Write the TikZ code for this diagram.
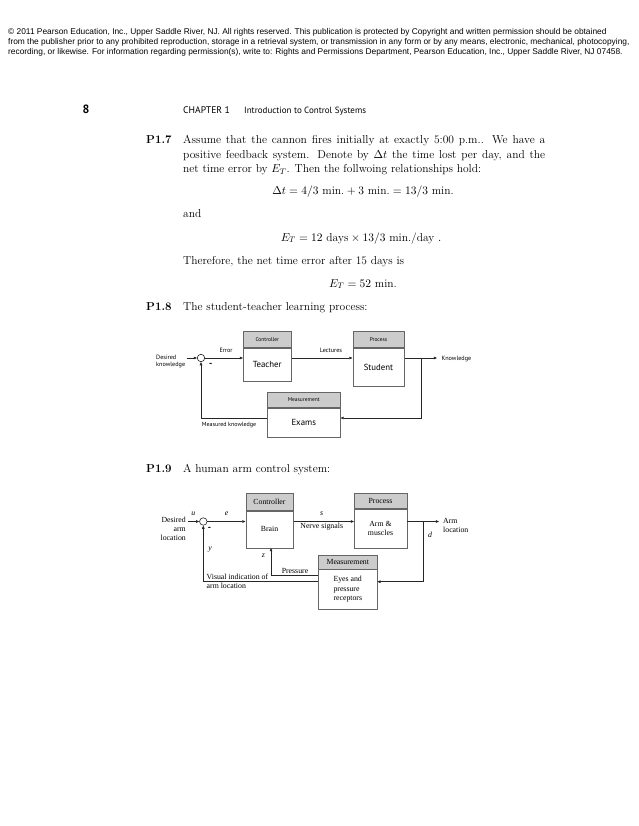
\RequirePackage{fix-cm}
\documentclass[tikz,border=0pt]{standalone}
\usepackage{fontspec}
\newfontfamily\arialf{Liberation Sans}
\newfontfamily\timesf{Liberation Serif}
\newfontfamily\dA{PT Sans}
\usetikzlibrary{arrows.meta}
\tikzset{
  wire/.style={draw=black!85, line width=0.6pt},
  arr/.style={wire, -{Triangle[length=3.2pt,width=2.6pt]}},
  hdr/.style={draw=black!60, fill=black!20, line width=0.5pt, inner sep=0, anchor=north west},
  bdy/.style={draw=black!60, line width=0.5pt, inner sep=0, anchor=north west, align=center},
  sumj/.style={circle, draw=black!85, line width=0.6pt, minimum size=7.5pt, inner sep=0},
  lab/.style={inner sep=0},
  cpy/.style={inner sep=0, anchor=base west, font=\arialf\fontsize{8.36}{9}\selectfont},
  body/.style={inner sep=0, anchor=base west, font=\fontsize{11.5}{14}\selectfont},
  num/.style={inner sep=0, anchor=base west, font=\fontsize{11.5}{14}\selectfont\bfseries},
  fA/.style={font=\dA\fontsize{#1}{#1}\selectfont},
  fB/.style 2 args={font=\timesf\fontsize{#1}{#2}\selectfont},
}
\begin{document}
\begin{tikzpicture}[x=1pt,y=-1pt]
\useasboundingbox (0,0) rectangle (638,826);
\fill[white] (0,0) rectangle (638,826);

% copyright notice
\node[cpy] (c1) at (8,35) {© 2011 Pearson Education, Inc., Upper Saddle River, NJ. All rights reserved. This publication is protected by Copyright and written permission should be obtained};
\node[cpy] (c2) at (8,45) {from the publisher prior to any prohibited reproduction, storage in a retrieval system, or transmission in any form or by any means, electronic, mechanical, photocopying,};
\node[cpy] (c3) at (8,55) {recording, or likewise. For information regarding permission(s), write to: Rights and Permissions Department, Pearson Education, Inc., Upper Saddle River, NJ 07458.};

% running head
\node[inner sep=0, anchor=base west, font=\dA\bfseries\fontsize{12}{12}\selectfont] (pg) at (82.5,114) {8};
\node[inner sep=0, anchor=base west, font=\dA\fontsize{9.6}{10}\selectfont] (ch) at (183,114) {CHAPTER 1};
\node[inner sep=0, anchor=base west, font=\dA\fontsize{9}{10}\selectfont] (cht) at (244,114) {Introduction to Control Systems};

% P1.7
\node[num] (p17) at (146,144) {P1.7};
\node[body] (l1) at (183,144) {\makebox[362pt][s]{Assume that the cannon fires initially at exactly 5:00 p.m.. We have a}};
\node[body] (l2) at (183,158.5) {\makebox[362pt][s]{positive feedback system. Denote by $\Delta t$ the time lost per day, and the}};
\node[body] (l3) at (183,173) {net time error by $E_T$. Then the follwoing relationships hold:};
\node[body, anchor=base] (eq1) at (363,195) {$\Delta t = 4/3 \mbox{ min.} + 3 \mbox{ min.} = 13/3 \mbox{ min.}$};
\node[body] (and) at (183,218) {and};
\node[body, anchor=base] (eq2) at (361,241) {$E_T = 12 \mbox{ days} \times 13/3 \mbox{ min./day}\ .$};
\node[body] (l4) at (183,264.5) {Therefore, the net time error after 15 days is};
\node[body, anchor=base] (eq3) at (363,287) {$E_T = 52 \mbox{ min.}$};

% P1.8
\node[num] (p18) at (146,310) {P1.8};
\node[body] (l5) at (183,310) {The student-teacher learning process:};

% diagram 1
\node[hdr, fA=5.5, minimum width=48pt, minimum height=16pt] (ctrlAh) at (243,331) {Controller};
\node[bdy, fA=8.8, minimum width=48pt, minimum height=33pt] (ctrlA) at (ctrlAh.south west) {Teacher};
\node[hdr, fA=5.5, minimum width=51.5pt, minimum height=16pt] (procAh) at (352.5,331) {Process};
\node[bdy, fA=8.8, minimum width=51.5pt, minimum height=38.5pt] (procA) at (procAh.south west) {Student};
\node[hdr, fA=5.5, minimum width=73pt, minimum height=15.5pt] (measAh) at (267,391.5) {Measurement};
\node[bdy, fA=8.8, minimum width=73pt, minimum height=29pt] (measA) at (measAh.south west) {Exams};
\node[sumj] (sumA) at (201,358) {};
\coordinate (inA) at (186.5,358);
\coordinate (outA) at (437,358);
\coordinate (brA) at (421,358);
\coordinate (fbA) at (300,418);
\draw[arr] (inA) -- (sumA.west);
\draw[arr] (sumA.east) -- (sumA.east -| ctrlA.west);
\draw[arr] (sumA.east -| ctrlA.east) -- (sumA.east -| procA.west);
\draw[arr] (sumA.east -| procA.east) -- (outA);
\draw[arr] (brA) |- (measA.east |- fbA);
\draw[arr] (measA.west |- fbA) -| (sumA.south);
\node[lab, font=\dA\fontsize{6.2}{7.6}\selectfont, align=left, anchor=west] (dkA) at (156,361.5) {Desired\\knowledge};
\node[lab, fA=6.2] (errA) at (226,350.5) {Error};
\node[lab, fA=6.2] (lecA) at (331,350.5) {Lectures};
\node[lab, fA=6.2, anchor=west] (knA) at (441.5,358.8) {Knowledge};
\node[lab, fA=6] (mkA) at (229,425.5) {Measured knowledge};
\node[lab, font=\dA\bfseries\fontsize{9}{9}\selectfont] (mnA) at (210.7,365) {-};

% P1.9
\node[num] (p19) at (146,472) {P1.9};
\node[body] (l6) at (183,472) {A human arm control system:};

% diagram 2
\node[hdr, fB={7.8}{9}, minimum width=47.5pt, minimum height=17.5pt] (ctrlBh) at (245.5,492.5) {Controller};
\node[bdy, fB={7.8}{9}, minimum width=47.5pt, minimum height=37pt] (ctrlB) at (ctrlBh.south west) {Brain};
\node[hdr, fB={7.8}{9}, minimum width=52.5pt, minimum height=15.5pt] (procBh) at (354,492.5) {Process};
\node[bdy, fB={7.8}{9.4}, minimum width=52.5pt, minimum height=39.5pt] (procB) at (procBh.south west) {Arm \&\\muscles};
\node[hdr, fB={7.8}{9}, minimum width=58.5pt, minimum height=13.5pt] (measBh) at (318.3,555) {Measurement};
\node[bdy, fB={7.8}{9.2}, minimum width=58.5pt, minimum height=40pt, align=left] (measB) at (measBh.south west) {Eyes and\\pressure\\receptors};
\node[sumj] (sumB) at (203.3,521.5) {};
\coordinate (inB) at (188,521.5);
\coordinate (outB) at (439,521.5);
\coordinate (brB) at (423.3,521.5);
\coordinate (fbB) at (300,581.7);
\coordinate (prB) at (271,575);
\draw[arr] (inB) -- (sumB.west);
\draw[arr] (sumB.east) -- (sumB.east -| ctrlB.west);
\draw[arr] (sumB.east -| ctrlB.east) -- (sumB.east -| procB.west);
\draw[arr] (sumB.east -| procB.east) -- (outB);
\draw[arr] (brB) |- (measB.east |- fbB);
\draw[arr] (measB.west |- fbB) -| (sumB.south);
\draw[arr] (measB.west |- prB) -| (prB |- ctrlB.south);
\node[lab, fB={7.8}{8.8}, align=right, anchor=east] (dB) at (186,529) {Desired\\arm\\location};
\node[lab, fB={7.8}{8.7}, align=left, anchor=west] (alB) at (443,525.5) {Arm\\location};
\node[lab, fB={7.8}{9}] (uB) at (193.3,513.8) {\itshape u};
\node[lab, fB={7.8}{9}] (eB) at (226.5,513.8) {\itshape e};
\node[lab, fB={7.8}{9}] (sB) at (321.7,513.8) {\itshape s};
\node[lab, fB={7.8}{9}] (nsB) at (321.7,526.5) {Nerve signals};
\node[lab, fB={7.8}{9}] (ddB) at (430,534.5) {\itshape d};
\node[lab, fB={7.8}{9}] (yB) at (210,550) {\itshape y};
\node[lab, fB={7.8}{9}] (zB) at (263.3,555.5) {\itshape z};
\node[lab, fB={7.8}{9}] (prT) at (295,570.7) {Pressure};
\node[lab, fB={7.8}{9}, anchor=base west] (viB) at (206.5,579.3) {Visual indication of};
\node[lab, fB={7.8}{9}, anchor=base west] (alB2) at (206.5,588) {arm location};
\node[lab, font=\dA\bfseries\fontsize{9}{9}\selectfont] (mnB) at (209.5,528.5) {-};
\end{tikzpicture}
\end{document}
